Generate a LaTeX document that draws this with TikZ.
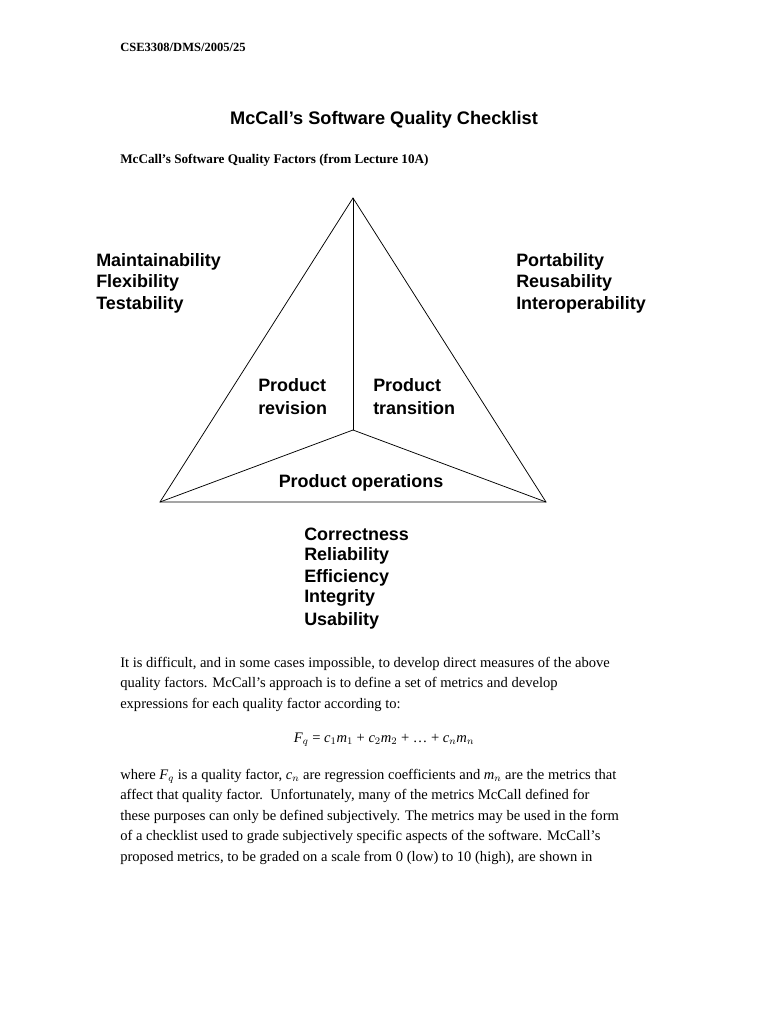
\documentclass[tikz,border=0pt]{standalone}
\usepackage{fontspec}
\setmainfont{Liberation Serif}
\newfontfamily\lab{Liberation Sans}
\begin{document}
\begin{tikzpicture}[x=0.797pt,y=-0.797pt,
 lbl/.style={font=\lab\bfseries\fontsize{14.3}{16}\selectfont,anchor=base west,inner sep=0pt},
 body/.style={font=\fontsize{11.6}{13}\selectfont,anchor=base west,inner sep=0pt},
 edge/.style={draw,line width=0.6pt}]
\useasboundingbox[fill=white] (0,0) rectangle (768,1024);
\node[anchor=base west,inner sep=0pt,font=\bfseries\fontsize{10}{12}\selectfont] (hdr) at (120,51) {CSE3308/DMS/2005/25};
\node[anchor=base,inner sep=0pt,font=\lab\bfseries\fontsize{14.5}{16}\selectfont] (title) at (384,124) {McCall’s Software Quality Checklist};
\node[anchor=base west,inner sep=0pt,font=\bfseries\fontsize{10.5}{12}\selectfont] (sub) at (120,163) {McCall’s Software Quality Factors (from Lecture 10A)};
\coordinate (A) at (353,198); \coordinate (L) at (160,502);
\coordinate (R) at (546,502); \coordinate (C) at (353,430);
\draw[edge] (A) -- (L) -- (R) -- cycle;
\draw[edge] (A) -- (C); \draw[edge] (L) -- (C) -- (R);
\node[lbl] (m1) at (96,266) {Maintainability};
\node[lbl] (m2) at (96,287) {Flexibility};
\node[lbl] (m3) at (96,309) {Testability};
\node[lbl] (p1) at (516,266) {Portability};
\node[lbl] (p2) at (516,287) {Reusability};
\node[lbl] (p3) at (516,309) {Interoperability};
\node[lbl] (r1) at (258,391) {Product};
\node[lbl] (r2) at (258,414) {revision};
\node[lbl] (t1) at (373,391) {Product};
\node[lbl] (t2) at (373,414) {transition};
\node[lbl,anchor=base] (po) at (361,487) {Product operations};
\node[lbl] (b1) at (304,540) {Correctness};
\node[lbl] (b2) at (304,560) {Reliability};
\node[lbl] (b3) at (304,582) {Efficiency};
\node[lbl] (b4) at (304,602) {Integrity};
\node[lbl] (b5) at (304,625) {Usability};
\node[body] (l1) at (120,667) {It is difficult, and in some cases impossible, to develop direct measures of the above};
\node[body] (l2) at (120,687) {quality factors. McCall’s approach is to define a set of metrics and develop};
\node[body] (l3) at (120,708) {expressions for each quality factor according to:};
\node[body,anchor=base] (eq) at (384,742) {\textit{F}$_q$ = \textit{c}$_1$\textit{m}$_1$ + \textit{c}$_2$\textit{m}$_2$ + \ldots\ + \textit{c}$_n$\textit{m}$_n$};
\node[body] (k1) at (120,779) {where \textit{F}$_q$ is a quality factor, \textit{c}$_n$ are regression coefficients and \textit{m}$_n$ are the metrics that};
\node[body] (k2) at (120,799) {affect that quality factor.\ \ Unfortunately, many of the metrics McCall defined for};
\node[body] (k3) at (120,820) {these purposes can only be defined subjectively. The metrics may be used in the form};
\node[body] (k4) at (120,840) {of a checklist used to grade subjectively specific aspects of the software. McCall’s};
\node[body] (k5) at (120,861) {proposed metrics, to be graded on a scale from 0 (low) to 10 (high), are shown in};
\end{tikzpicture}
\end{document}
